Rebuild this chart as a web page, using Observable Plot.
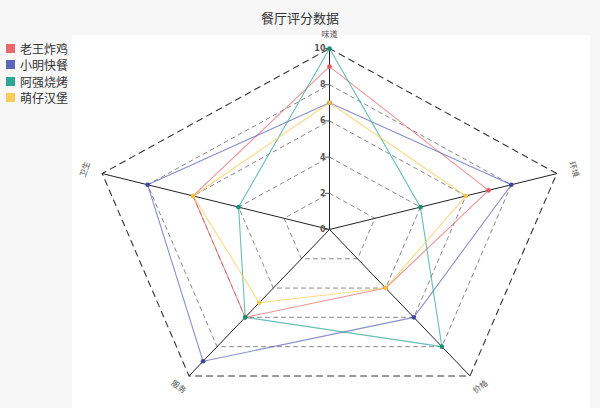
<!DOCTYPE html>
<html>
<head>
<meta charset="utf-8">
<script src="https://cdn.jsdelivr.net/npm/d3@7"></script>
<script src="https://cdn.jsdelivr.net/npm/@observablehq/plot@0.6"></script>
<style>
  html, body { margin: 0; padding: 0; }
  body { width: 600px; height: 408px; background: #f7f7f7; position: relative; overflow: hidden;
         font-family: "Noto Sans CJK SC", "Noto Sans", sans-serif; }
  #title { position: absolute; left: 0; top: 0; width: 600px; height: 35px; line-height: 35px;
           text-align: center; font-size: 13px; color: #333; }
  #panel { position: absolute; left: 72px; top: 35px; width: 518px; height: 373px; background: #fff; }
  #chart { position: absolute; left: 0; top: 35px; }
  #legend { position: absolute; left: 6px; top: 40px; z-index: 2; font-size: 12px; color: #333; }
  .item { display: flex; align-items: center; height: 16.5px; }
  .sw { width: 9px; height: 9px; margin-right: 5px; }
</style>
</head>
<body>
<div id="title">餐厅评分数据</div>
<div id="panel"></div>
<div id="chart"></div>
<div id="legend"></div>
<script>
const categories = ["味道", "环境", "价格", "服务", "卫生"];
const seriesNames = ["老王炸鸡", "小明快餐", "阿强烧烤", "萌仔汉堡"];
const laowang = [9, 7, 4, 6, 6];
const xiaoming = [7, 8, 6, 9, 8];
const aqiang = [10, 4, 8, 6, 4];
const mengzai = [7, 6, 4, 5, 6];
const seriesColors = ["#e9686b", "#5c66b8", "#2fa596", "#f8cc58"];
const dotColors = ["#e0555a", "#3e479c", "#1b8f72", "#f2c240"];
const gridLevels = [2, 4, 6, 8, 10];
const tickValues = [0, 2, 4, 6, 8, 10];
const maxValue = 10;

const seriesValues = [laowang, xiaoming, aqiang, mengzai];
const angleOf = i => (i * 2 * Math.PI) / categories.length;
const px = (v, i) => v * Math.sin(angleOf(i));
const py = (v, i) => v * Math.cos(angleOf(i));

const seriesPts = [];
const seriesDots = [];
seriesNames.forEach((name, s) => {
  const vals = seriesValues[s];
  [...vals.keys(), 0].forEach((i, k) => {
    seriesPts.push({name, x: px(vals[i], i), y: py(vals[i], i), order: k});
  });
  vals.forEach((v, i) => seriesDots.push({name, dot: dotColors[s], x: px(v, i), y: py(v, i)}));
});

const ringPts = [];
gridLevels.forEach(level => {
  [...categories.keys(), 0].forEach(i => ringPts.push({level, x: px(level, i), y: py(level, i)}));
});
const innerRings = ringPts.filter(d => d.level < maxValue);
const outerRing = ringPts.filter(d => d.level === maxValue);

const spokes = categories.map((c, i) => ({c, x: px(maxValue, i), y: py(maxValue, i)}));
const labelR = maxValue * 1.075;
const labels = categories.map((c, i) => {
  const deg = (angleOf(i) * 180) / Math.PI;
  const rot = deg <= 90 ? deg : deg < 270 ? deg - 180 : deg - 360;
  return {c, x: px(labelR, i), y: py(labelR, i), rot};
});
const ticks = tickValues.map(v => ({v, label: String(v)}));

const W = 600, H = 373;
const cx = 329, cy = 194, kx = 23.9, ky = 18.1;

const chart = Plot.plot({
  width: W, height: H,
  margin: 0,
  style: {background: "transparent", overflow: "visible"},
  x: {domain: [-cx / kx, (W - cx) / kx], axis: null},
  y: {domain: [-(H - cy) / ky, cy / ky], axis: null},
  color: {domain: seriesNames, range: seriesColors},
  marks: [
    Plot.line(innerRings, {x: "x", y: "y", z: "level", stroke: "#8a8a8a", strokeWidth: 1, strokeDasharray: "4,4"}),
    Plot.line(outerRing, {x: "x", y: "y", stroke: "#333", strokeWidth: 1.1, strokeDasharray: "6,5"}),
    Plot.link(spokes, {x1: 0, y1: 0, x2: "x", y2: "y", stroke: "#222", strokeWidth: 1}),
    Plot.link(ticks, {x1: 0, x2: -0.18, y1: "v", y2: "v", stroke: "#555", strokeWidth: 1}),
    Plot.text(ticks, {x: 0, y: "v", text: "label", dx: -4, textAnchor: "end", fontSize: 8, fontWeight: "bold", fill: "#555", fontFamily: "DejaVu Sans"}),
    Plot.line(seriesPts, {x: "x", y: "y", z: "name", stroke: "name", strokeWidth: 1.1, strokeOpacity: 0.72}),
    Plot.dot(seriesDots, {x: "x", y: "y", fill: "dot", r: 2.3}),
    Plot.text(labels, {x: "x", y: "y", text: "c", rotate: "rot", fontSize: 8, fill: "#555", fontFamily: "Noto Sans CJK SC"})
  ]
});
document.getElementById("chart").appendChild(chart);

const legend = document.getElementById("legend");
seriesNames.forEach((n, i) => {
  const item = document.createElement("div");
  item.className = "item";
  const sw = document.createElement("span");
  sw.className = "sw";
  sw.style.background = seriesColors[i];
  const t = document.createElement("span");
  t.textContent = n;
  item.appendChild(sw); item.appendChild(t);
  legend.appendChild(item);
});
</script>
</body>
</html>
